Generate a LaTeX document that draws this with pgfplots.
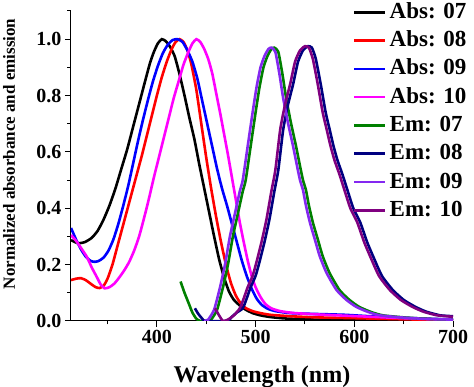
\documentclass[border=0pt]{standalone}
\usepackage{fontspec}
\setmainfont{Liberation Serif}
\usepackage{pgfplots}
\pgfplotsset{compat=1.18}
\definecolor{cBlack}{RGB}{0,0,0}
\definecolor{cRed}{RGB}{255,0,0}
\definecolor{cBlue}{RGB}{0,0,255}
\definecolor{cMag}{RGB}{255,0,255}
\definecolor{cGreen}{RGB}{0,128,0}
\definecolor{cNavy}{RGB}{0,0,128}
\definecolor{cViolet}{RGB}{132,40,240}
\definecolor{cPurple}{RGB}{128,0,128}
\begin{document}
\begin{tikzpicture}
\useasboundingbox (0,0) rectangle (474pt,387pt);
\begin{axis}[
  at={(71pt,66pt)}, anchor=south west,
  scale only axis, width=382pt, height=310pt,
  xmin=313, xmax=700, ymin=0, ymax=1.1,
  axis lines=left, axis line style={-, line width=1pt},
  xtick={400,500,600,700}, minor xtick={350,450,550,650},
  ytick={0,0.2,0.4,0.6,0.8,1.0}, minor ytick={0.1,0.3,0.5,0.7,0.9,1.1},
  tick align=outside, major tick length=6pt, minor tick length=3.5pt,
  every tick/.style={black, line width=1pt},
  tick label style={font=\bfseries\fontsize{20}{20}\selectfont},
  /pgf/number format/assume math mode=true,
  yticklabel style={/pgf/number format/.cd, fixed, fixed zerofill, precision=1},
  xticklabel style={/pgf/number format/.cd, 1000 sep={}},
  xlabel={Wavelength (nm)},
  xlabel style={at={(axis description cs:0.5,-0.197)}, anchor=base, font=\bfseries\fontsize{24}{24}\selectfont},
  ylabel={Normalized absorbance and emission},
  ylabel style={at={(axis description cs:-0.162,0.539)}, anchor=center, font=\bfseries\fontsize{17}{17}\selectfont},
  legend image code/.code={\draw[#1, line width=2.6pt] (0pt,0pt) -- (31pt,0pt);},
  legend style={at={(axis description cs:0.738,1.032)}, anchor=north west, draw=none, fill=none,
    inner sep=0pt, row sep=6.3pt, column sep=0pt,
    font=\bfseries\fontsize{23}{23}\selectfont,
    nodes={inner sep=0pt, text height=17pt, text depth=5pt},
    /tikz/every odd column/.append style={column sep=3pt}},
  legend cell align=left,
  cv/.style={line width=2.6pt, smooth, tension=0.35},
  clip=true,
]
\addplot[cv, cBlack] coordinates {
(313,0.287)(320,0.276)(327,0.28)(334,0.295)(340,0.32)(346,0.36)(352,0.41)(358,0.47)(364,0.54)(370,0.61)(376,0.69)(382,0.77)(388,0.85)(393,0.915)(397,0.955)(401,0.985)(405,1.0)(409,0.993)(413,0.975)(418,0.94)(423,0.875)(428,0.80)(433,0.72)(438,0.645)(443,0.555)(448,0.47)(453,0.385)(458,0.30)(463,0.22)(468,0.155)(473,0.105)(478,0.075)(484,0.055)(490,0.04)(497,0.028)(505,0.02)(515,0.014)(530,0.009)(560,0.005)(620,0.003)(700,0.001)};
\addlegendentry{Abs: 07}
\addplot[cv, cRed] coordinates {
(313,0.145)(318,0.150)(323,0.152)(328,0.145)(333,0.132)(338,0.12)(342,0.117)(346,0.125)(350,0.15)(355,0.20)(360,0.265)(365,0.33)(370,0.395)(375,0.46)(380,0.525)(385,0.59)(390,0.66)(395,0.73)(400,0.80)(405,0.865)(410,0.92)(415,0.965)(419,0.99)(423,1.0)(427,0.99)(431,0.96)(435,0.91)(440,0.82)(445,0.70)(450,0.58)(455,0.47)(460,0.37)(465,0.28)(470,0.20)(475,0.135)(480,0.09)(485,0.062)(490,0.046)(497,0.035)(505,0.028)(515,0.022)(535,0.017)(560,0.013)(600,0.01)(650,0.006)(700,0.003)};
\addlegendentry{Abs: 08}
\addplot[cv, cBlue] coordinates {
(313,0.33)(318,0.29)(323,0.255)(328,0.228)(333,0.213)(337,0.21)(341,0.213)(346,0.225)(351,0.25)(356,0.29)(361,0.345)(366,0.41)(371,0.48)(376,0.56)(381,0.64)(386,0.715)(391,0.785)(396,0.85)(401,0.905)(406,0.95)(411,0.98)(416,0.997)(421,1.0)(426,0.99)(431,0.96)(436,0.92)(441,0.86)(446,0.78)(451,0.70)(456,0.62)(461,0.54)(466,0.47)(471,0.41)(476,0.345)(481,0.28)(486,0.215)(491,0.16)(496,0.115)(501,0.08)(506,0.058)(512,0.044)(520,0.035)(535,0.028)(560,0.025)(590,0.022)(620,0.016)(660,0.01)(700,0.005)};
\addlegendentry{Abs: 09}
\addplot[cv, cMag] coordinates {
(313,0.305)(318,0.285)(323,0.26)(329,0.228)(334,0.19)(339,0.157)(343,0.13)(347,0.116)(352,0.12)(357,0.133)(362,0.155)(367,0.18)(372,0.21)(377,0.25)(382,0.30)(387,0.365)(392,0.435)(397,0.51)(402,0.58)(407,0.65)(412,0.72)(417,0.79)(422,0.85)(427,0.91)(432,0.955)(436,0.985)(440,1.0)(444,0.99)(448,0.965)(452,0.93)(456,0.88)(460,0.81)(464,0.74)(468,0.665)(472,0.59)(476,0.51)(480,0.43)(484,0.35)(488,0.28)(492,0.215)(496,0.16)(500,0.12)(505,0.085)(510,0.06)(516,0.045)(525,0.035)(540,0.028)(570,0.022)(610,0.016)(650,0.01)(700,0.004)};
\addlegendentry{Abs: 10}
\addplot[cv, cGreen] coordinates {
(424,0.14)(428,0.10)(432,0.065)(436,0.03)(440,0.008)(444,0.0)(451,0.0)(455,0.005)(461,0.04)(467,0.12)(472,0.20)(477,0.30)(482,0.38)(487,0.46)(490,0.50)(495,0.62)(500,0.74)(504,0.83)(508,0.90)(512,0.94)(516,0.965)(519,0.97)(523,0.955)(527,0.88)(531,0.79)(536,0.70)(541,0.62)(545,0.55)(548,0.50)(551,0.465)(554,0.41)(558,0.35)(563,0.29)(568,0.23)(575,0.17)(585,0.11)(595,0.075)(605,0.05)(617,0.032)(629,0.02)(653,0.012)(678,0.007)(700,0.005)};
\addlegendentry{Em: 07}
\addplot[cv, cNavy] coordinates {
(438.5,0.045)(442,0.025)(446,0.008)(449,0.0)(471,0.0)(476,0.015)(481,0.03)(487,0.045)(491,0.08)(495,0.12)(500,0.16)(504,0.21)(509,0.28)(514,0.36)(519,0.46)(523,0.535)(528,0.68)(533,0.77)(538,0.84)(543,0.92)(548,0.96)(553,0.975)(557,0.97)(561,0.93)(566,0.84)(571,0.74)(575,0.68)(579,0.62)(583,0.57)(588,0.52)(593,0.465)(599,0.40)(606,0.35)(613,0.28)(619,0.23)(628,0.16)(639,0.11)(650,0.075)(662,0.05)(673,0.033)(687,0.02)(700,0.017)};
\addlegendentry{Em: 08}
\addplot[cv, cViolet] coordinates {
(448,0.0)(452,0.005)(458,0.04)(464,0.12)(469,0.20)(474,0.30)(479,0.38)(484,0.46)(487,0.50)(492,0.62)(497,0.74)(501,0.83)(505,0.90)(509,0.94)(513,0.965)(516,0.97)(520,0.955)(524,0.88)(528,0.79)(533,0.70)(538,0.62)(542,0.55)(545,0.50)(548,0.465)(551,0.41)(555,0.35)(560,0.29)(565,0.23)(572,0.17)(582,0.11)(592,0.075)(602,0.05)(614,0.032)(626,0.02)(650,0.012)(675,0.007)(700,0.005)};
\addlegendentry{Em: 09}
\addplot[cv, cPurple] coordinates {
(459,0.045)(463,0.02)(467,0.0)(472,0.005)(478,0.02)(484,0.045)(488,0.08)(492,0.12)(497,0.16)(501,0.21)(506,0.28)(511,0.36)(516,0.46)(520,0.535)(525,0.68)(530,0.77)(535,0.84)(540,0.92)(545,0.96)(550,0.975)(554,0.97)(558,0.93)(563,0.84)(568,0.74)(572,0.68)(576,0.62)(580,0.57)(585,0.52)(590,0.465)(596,0.40)(603,0.35)(610,0.28)(616,0.23)(625,0.16)(636,0.11)(647,0.075)(659,0.05)(670,0.033)(684,0.02)(700,0.015)};
\addlegendentry{Em: 10}
\end{axis}
\end{tikzpicture}
\end{document}
